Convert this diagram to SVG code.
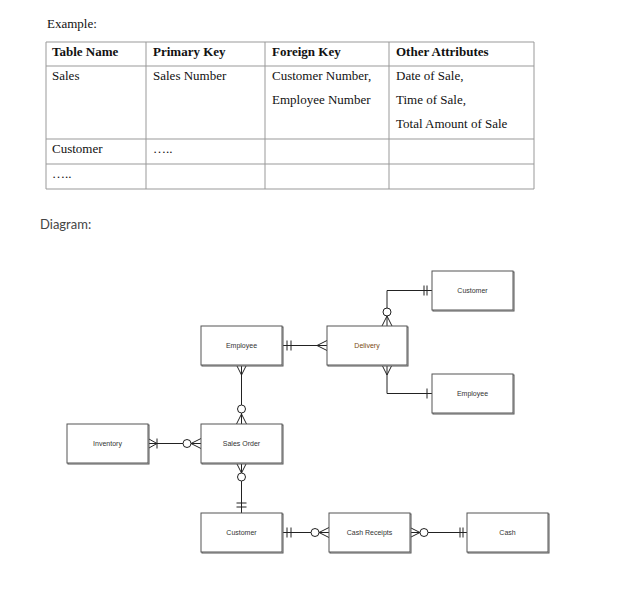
<svg xmlns="http://www.w3.org/2000/svg" width="630" height="597" viewBox="0 0 630 597">
<style>
.t{font-family:"Liberation Serif",serif;font-size:13px;fill:#111}
.b{font-weight:bold}
.g line{stroke:#999;stroke-width:1}
.box rect{fill:#fff;stroke:#555;stroke-width:1}
.sh{fill:#ccc}
.box text{font-family:"Liberation Sans",Arial,sans-serif;font-size:7px;fill:#333;text-anchor:middle}
#connectors path,#connectors line{stroke:#222;stroke-width:1;fill:none}
#connectors circle{fill:#fff;stroke:#222;stroke-width:1}
</style>
<rect width="630" height="597" fill="#fff"/>
<text class="t" x="47" y="28">Example:</text>
<g class="g">
<line x1="46" y1="42" x2="534" y2="42"/><line x1="46" y1="66" x2="534" y2="66"/>
<line x1="46" y1="139" x2="534" y2="139"/><line x1="46" y1="164" x2="534" y2="164"/>
<line x1="46" y1="189" x2="534" y2="189"/>
<line x1="46" y1="42" x2="46" y2="189"/><line x1="146" y1="42" x2="146" y2="189"/>
<line x1="265" y1="42" x2="265" y2="189"/><line x1="389" y1="42" x2="389" y2="189"/>
<line x1="534" y1="42" x2="534" y2="189"/>
</g>
<text class="t b" x="52" y="56">Table Name</text>
<text class="t b" x="153" y="56">Primary Key</text>
<text class="t b" x="272" y="56">Foreign Key</text>
<text class="t b" x="396" y="56">Other Attributes</text>
<text class="t" x="52" y="80">Sales</text>
<text class="t" x="153" y="80">Sales Number</text>
<text class="t" x="272" y="80">Customer Number,</text>
<text class="t" x="272" y="104">Employee Number</text>
<text class="t" x="396" y="80">Date of Sale,</text>
<text class="t" x="396" y="104">Time of Sale,</text>
<text class="t" x="396" y="128">Total Amount of Sale</text>
<text class="t" x="52" y="153">Customer</text>
<text class="t" x="153" y="153">…..</text>
<text class="t" x="52" y="178">…..</text>
<text x="40" y="229" style="font-family:Lato,sans-serif;font-size:13px;fill:#444">Diagram:</text>

<g id="connectors">
<path d="M282 345.5H327M287 340.5V350.5M291 340.5V350.5M317 345.5L327 340.5M317 345.5L327 350.5"/>
<path d="M387 326V290.5H432M424 285.5V295.5M427 285.5V295.5M387 316L382 326M387 316L392 326"/>
<circle cx="387" cy="312" r="4"/>
<path d="M387 365V393.5H432M427 388.5V398.5M387 375L382 365M387 375L392 365"/>
<path d="M241.5 365V424M241.5 375L236.5 365M241.5 375L246.5 365M241.5 414L236.5 424M241.5 414L246.5 424"/>
<circle cx="241.5" cy="409" r="4"/>
<path d="M148 443.5H201M157 438.5V448.5M157 443.5L148 438.5M157 443.5L148 448.5M191 443.5L201 438.5M191 443.5L201 448.5"/>
<circle cx="187" cy="443.5" r="4"/>
<path d="M241.5 463V513M241.5 473L236.5 463M241.5 473L246.5 463M236.5 503H246.5M236.5 507H246.5"/>
<circle cx="241.5" cy="477" r="4"/>
<path d="M282 532.5H329M287 527.5V537.5M291 527.5V537.5M319 532.5L329 527.5M319 532.5L329 537.5"/>
<circle cx="315" cy="532.5" r="4"/>
<path d="M410 532.5H467M420 532.5L410 527.5M420 532.5L410 537.5M460 527.5V537.5M463 527.5V537.5"/>
<circle cx="424" cy="532.5" r="4"/>
</g>

<g id="employee1" class="box"><rect class="sh" x="202" y="327" width="81" height="39"/><rect x="201" y="326" width="81" height="39"/><text x="241.5" y="348">Employee</text></g>
<g id="delivery" class="box"><rect class="sh" x="328" y="327" width="80" height="39"/><rect x="327" y="326" width="80" height="39"/><text x="367" y="348" style="fill:#7a4a10">Delivery</text></g>
<g id="customer1" class="box"><rect class="sh" x="433" y="272" width="81" height="39"/><rect x="432" y="271" width="81" height="39"/><text x="472.5" y="293">Customer</text></g>
<g id="employee2" class="box"><rect class="sh" x="433" y="375" width="81" height="39"/><rect x="432" y="374" width="81" height="39"/><text x="472.5" y="396">Employee</text></g>
<g id="inventory" class="box"><rect class="sh" x="68" y="425" width="81" height="39"/><rect x="67" y="424" width="81" height="39"/><text x="107.5" y="446">Inventory</text></g>
<g id="salesorder" class="box"><rect class="sh" x="202" y="425" width="81" height="39"/><rect x="201" y="424" width="81" height="39"/><text x="241.5" y="446">Sales Order</text></g>
<g id="customer2" class="box"><rect class="sh" x="202" y="514" width="81" height="39"/><rect x="201" y="513" width="81" height="39"/><text x="241.5" y="535">Customer</text></g>
<g id="cashreceipts" class="box"><rect class="sh" x="330" y="514" width="81" height="39"/><rect x="329" y="513" width="81" height="39"/><text x="369.5" y="535">Cash Receipts</text></g>
<g id="cash" class="box"><rect class="sh" x="468" y="514" width="81" height="39"/><rect x="467" y="513" width="81" height="39"/><text x="507.5" y="535">Cash</text></g>
</svg>
